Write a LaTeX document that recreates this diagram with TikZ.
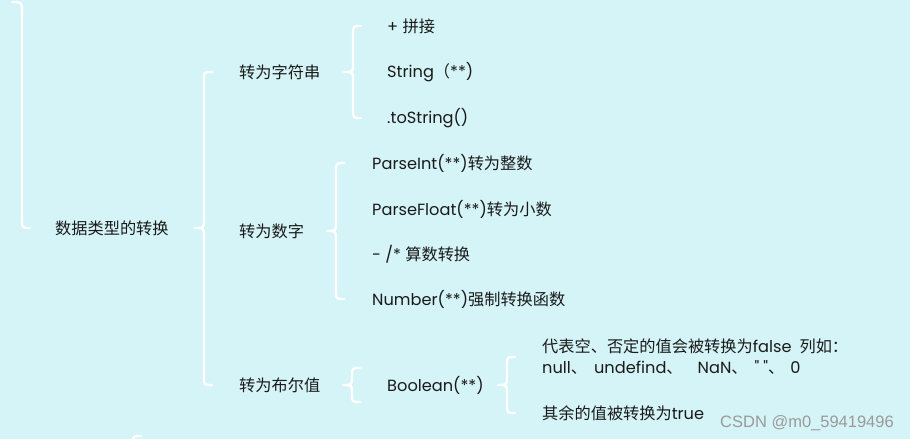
\documentclass[tikz,border=0pt]{standalone}
\usepackage{fontspec}
\setmainfont{Poppins}
\newfontfamily\cjfont{Noto Sans CJK SC}
\newfontfamily\qfont{Poppins}
\newfontfamily\wmfont{Liberation Sans}
\newcommand{\cj}[1]{{\cjfont #1}}
\usetikzlibrary{calc}
\definecolor{bgc}{HTML}{D5F4F7}
\definecolor{txt}{HTML}{1A1A1A}
\definecolor{wmc}{HTML}{9A9A9A}
\tikzset{
  lbl/.style={anchor=west, inner sep=0pt, text=txt, font=\fontsize{16.2}{21}\selectfont},
  bracestyle/.style={draw=white, line width=2.4pt, line cap=round, line join=round},
}
% #1 parent, #2 top child, #3 bottom child, #4 distance of vertical from child west, #5 extra spread
\newcommand{\mybrace}[5]{%
  \draw[bracestyle] let \p1=(#1.west), \p2=(#2.west), \p3=(#3.west), \n1={\x2-#4},
      \n2={\y2+#5}, \n3={\y3-#5} in
    ({\n1+8pt},\n2) .. controls (\n1,\n2) .. (\n1,{\n2-8pt})
    -- (\n1,{\y1+8pt}) .. controls (\n1,\y1) .. ({\n1-9pt},\y1)
    .. controls (\n1,\y1) .. (\n1,{\y1-8pt})
    -- (\n1,{\n3+8pt}) .. controls (\n1,\n3) .. ({\n1+8pt},\n3);
}
\begin{document}
\begin{tikzpicture}[x=1pt,y=-1pt]
\fill[bgc] (0,0) rectangle (910,439);
\useasboundingbox (0,0) rectangle (910,439);
\clip (0,0) rectangle (910,439);

\node[lbl] (main) at (55,228) {\cj{数据类型的转换}};
\node[lbl] (s) at (239,72) {\cj{转为字符串}};
\node[lbl] (n) at (239,231) {\cj{转为数字}};
\node[lbl] (b) at (239,385) {\cj{转为布尔值}};

\node[lbl] (s1) at (387,26) {+ \cj{拼接}};
\node[lbl] (s2) at (387,72) {String\cj{（}**)};
\node[lbl] (s3) at (387,118) {.toString()};

\node[lbl] (n1) at (372,163) {ParseInt(**)\cj{转为整数}};
\node[lbl] (n2) at (372,209) {ParseFloat(**)\cj{转为小数}};
\node[lbl] (n3) at (372,254) {- /* \cj{算数转换}};
\node[lbl] (n4) at (372,299) {Number(**)\cj{强制转换函数}};

\node[lbl] (b1) at (387,385) {Boolean(**)};
\node[lbl, align=left] (bt1) at (542,357) {\cj{代表空、否定的值会被转换为}false\hspace{8pt}\cj{列如：}\\null\cj{、}\hspace{7pt}undefind\cj{、}\hspace{15pt}NaN\cj{、}\hspace{7pt}{\qfont "\hspace{4pt}"}\cj{、}\hspace{6pt}0};
\node[lbl] (bt2) at (542,413) {\cj{其余的值被转换为}true};

\node[anchor=base west, inner sep=0pt, text=wmc, font=\wmfont\fontsize{16.5}{18}\selectfont] (wm) at (720,427) {CSDN @m0\_59419496};

% braces
\coordinate (tl) at (12,2);
\draw[bracestyle] (tl) .. controls (22,2) .. ($(main.west)+(-33,-216)$)
  -- ($(main.west)+(-33,-8)$) .. controls ($(main.west)+(-33,0)$) .. ($(main.west)+(-25,0)$);

\mybrace{main}{s}{b}{35pt}{0pt}
\mybrace{s}{s1}{s3}{34pt}{0pt}
\mybrace{n}{n1}{n4}{36pt}{0pt}
\mybrace{b}{b1}{b1}{35pt}{17pt}
\mybrace{b1}{bt1}{bt2}{35pt}{0pt}

\coordinate (bl) at (141,436);
\draw[bracestyle] (bl) .. controls (133,436) .. (133,444);
\end{tikzpicture}
\end{document}
